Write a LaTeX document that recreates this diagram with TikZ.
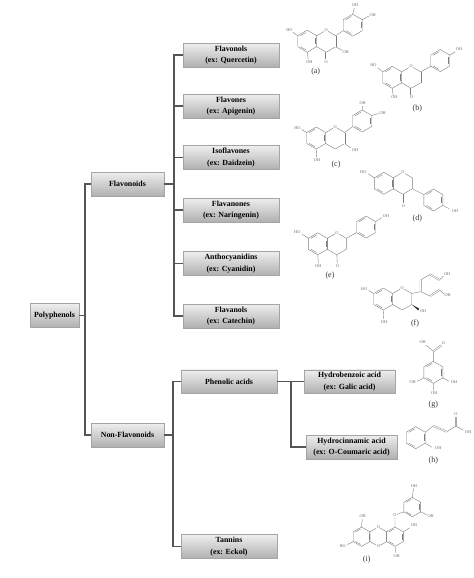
\documentclass[tikz,border=0pt]{standalone}
\usepackage{fontspec}
\setmainfont{Liberation Serif}
\usetikzlibrary{shadows}
\definecolor{boxTop}{RGB}{238, 238, 238}
\definecolor{boxBottom}{RGB}{176, 176, 176}
\definecolor{boxEdge}{RGB}{165, 165, 165}
\definecolor{linkGray}{RGB}{85, 85, 85}
\definecolor{bondGray}{RGB}{125, 125, 125}
\tikzset{
    classbox/.style={draw=boxEdge, line width=.5pt, top color=boxTop, bottom color=boxBottom,
        minimum height=17.75pt, inner sep=0pt, align=center,
        font=\fontsize{5.9}{8.6}\selectfont\bfseries,
        drop shadow={shadow xshift=.2pt, shadow yshift=-.5pt, fill=gray, opacity=.7}},
    rootbox/.style={classbox, minimum width=36.75pt},
    groupbox/.style={classbox, minimum width=54.75pt},
    familybox/.style={classbox, minimum width=72pt},
    acidbox/.style={classbox, minimum width=68.25pt},
    link/.style={draw=linkGray, line width=.95pt},
    bond/.style={draw=bondGray, line width=.3pt},
    dblbond/.style={bond, double, double distance=.7pt},
    atom/.style={inner sep=.2pt, text=black!60, font=\fontsize{3.2}{4}\selectfont},
    ringatom/.style={atom, fill=white},
    caption/.style={inner sep=0pt, text=black!80, font=\fontsize{6}{7}\selectfont}
}
% rings, 11 units from centre to corner
\newcommand{\hexring}[2]{\draw[bond] (#1,#2-11) -- (#1+9.5,#2-5.5) -- (#1+9.5,#2+5.5) -- (#1,#2+11) -- (#1-9.5,#2+5.5) -- (#1-9.5,#2-5.5) -- cycle;}
\newcommand{\hexinner}[2]{\foreach \a in {90,210,330} {\draw[bond] ([shift={(#1,#2)}]\a+8:8.8) -- ([shift={(#1,#2)}]\a+52:8.8);}}
\newcommand{\flavcore}{\hexring{-9.5}{0} \hexinner{-9.5}{0} \hexring{9.5}{0}}
\begin{document}
\begin{tikzpicture}[x=.75pt, y=-.75pt]
    \useasboundingbox (0,0) rectangle (474,578);

    \node[rootbox] (polyphenols) at (54.5,315.5) {Polyphenols};
    \node[groupbox] (flavonoids) at (127.5,184) {Flavonoids};
    \node[groupbox] (nonflavonoids) at (127.5,435) {Non-Flavonoids};
    \node[familybox] (flavonols) at (231,55) {Flavonols\\(ex: Quercetin)};
    \node[familybox] (flavones) at (231,106) {Flavones\\(ex: Apigenin)};
    \node[familybox] (isoflavones) at (231,157.5) {Isoflavones\\(ex: Daidzein)};
    \node[familybox] (flavanones) at (231,210) {Flavanones\\(ex: Naringenin)};
    \node[familybox] (anthocyanidins) at (231,263.5) {Anthocyanidins\\(ex: Cyanidin)};
    \node[familybox] (flavanols) at (231,316) {Flavanols\\(ex: Catechin)};
    \node[familybox] (phenolic) at (229,381.75) {Phenolic acids};
    \node[familybox] (tannins) at (229,546.5) {Tannins\\(ex: Eckol)};
    \node[acidbox] (hydrobenzoic) at (349.5,381.75) {Hydrobenzoic acid\\(ex: Galic acid)};
    \node[acidbox] (hydrocinnamic) at (351.5,447) {Hydrocinnamic acid\\(ex: O-Coumaric acid)};

    \coordinate (forkRoot) at (85,315.5);
    \coordinate (forkFlav) at (174,184);
    \coordinate (forkNon) at (173,435);
    \coordinate (forkAcid) at (291,381.75);

    \draw[link] (polyphenols.east) -- (forkRoot);
    \draw[link] (flavonoids.west) -| (forkRoot);
    \draw[link] (nonflavonoids.west) -| (forkRoot);
    \draw[link] (flavonoids.east) -- (forkFlav);
    \foreach \fam in {flavonols,flavones,isoflavones,flavanones,anthocyanidins,flavanols} {
        \draw[link] (\fam.west) -| (forkFlav);
    }
    \draw[link] (nonflavonoids.east) -- (forkNon);
    \draw[link] (phenolic.west) -| (forkNon);
    \draw[link] (tannins.west) -| (forkNon);
    \draw[link] (phenolic.east) -- (hydrobenzoic.west);
    \draw[link] (hydrocinnamic.west) -| (forkAcid);

    \begin{scope}[shift={(316.7,41.2)}]
        \flavcore
        \hexring{36}{-16} \hexinner{36}{-16}
        \draw[bond] (19,-5.5) -- (26.5,-10.5) (-19,-5.5) -- (-24,-9) (19,5.5) -- (25,9) (-9.5,11) -- (-8.5,18);
        \draw[bond] (36,-27) -- (37.5,-33) (45.5,-21.5) -- (52,-25);
        \draw[dblbond] (9.5,11) -- (9.5,18) (19,-5.5) -- (19,5.5);
        \node[ringatom] (aRing) at (9.5,-11) {O};
        \node[atom] (aHo) at (-27.3,-11.2) {HO};
        \node[atom] (aOhTop) at (38.3,-36.5) {OH};
        \node[atom] (aOhRight) at (56,-26) {OH};
        \node[atom] (aOhMid) at (29,10.5) {OH};
        \node[atom] (aOhLow) at (-7.3,20.5) {OH};
        \node[atom] (aKeto) at (9.5,20.5) {O};
    \end{scope}
    \node[caption] (capA) at (315.7,71.7) {(a)};

    \begin{scope}[shift={(401.7,77.3)}]
        \flavcore
        \hexring{38.5}{-16.7} \hexinner{38.5}{-16.7}
        \draw[bond] (19,-5.5) -- (29,-11) (-19,-5.5) -- (-24,-9.5) (-9.5,11) -- (-8.5,18) (48,-22.2) -- (53.5,-25.5);
        \draw[dblbond] (9.5,11) -- (9.5,18) (19,-5.5) -- (19,5.5);
        \node[ringatom] (bRing) at (9.5,-11) {O};
        \node[atom] (bHo) at (-28.3,-11.7) {HO};
        \node[atom] (bOhRight) at (57.3,-28) {OH};
        \node[atom] (bOhLow) at (-7.3,20.3) {OH};
        \node[atom] (bKeto) at (10,20.3) {O};
    \end{scope}
    \node[caption] (capB) at (417.3,108.3) {(b)};

    \begin{scope}[shift={(325.7,138)}]
        \flavcore
        \hexring{36.5}{-17} \hexinner{36.5}{-17}
        \draw[bond] (19,-5.5) -- (27,-11.5) (-19,-5.5) -- (-24,-8.5) (19,5.5) -- (25,10) (-9.5,11) -- (-9,19.5);
        \draw[bond] (36.5,-28) -- (37,-32) (46,-22.5) -- (53,-24.5);
        \draw[dblbond] (19,-5.5) -- (19,5.5);
        \node[ringatom] (cRing) at (9.5,-11) {O};
        \node[atom] (cHo) at (-28.3,-9.7) {HO};
        \node[atom] (cOhTop) at (37,-34.7) {OH};
        \node[atom] (cOhRight) at (57,-24.7) {OH};
        \node[atom] (cOhMid) at (29.3,12) {OH};
        \node[atom] (cOhLow) at (-8.7,22.5) {OH};
    \end{scope}
    \node[caption] (capC) at (336,164.3) {(c)};

    \begin{scope}[shift={(393.3,183.3)}]
        \flavcore
        \hexring{40}{16.7} \hexinner{40}{16.7}
        \draw[bond] (19,5.5) -- (30.5,11.2) (-19,-5.5) -- (-25,-9.5) (49.5,22.2) -- (56,25.5);
        \draw[dblbond] (9.5,11) -- (9.5,20);
        \node[ringatom] (dRing) at (9.5,-11) {O};
        \node[atom] (dHo) at (-30,-11) {HO};
        \node[atom] (dOhRight) at (61.7,27.7) {OH};
        \node[atom] (dKeto) at (10,23.3) {O};
    \end{scope}
    \node[caption] (capD) at (417.3,218.3) {(d)};

    \begin{scope}[shift={(327.3,243.8)}]
        \flavcore
        \hexring{38.7}{-16.7} \hexinner{38.7}{-16.7}
        \draw[bond] (19,-5.5) -- (29.2,-11.2) (-19,-5.5) -- (-25,-9.5) (-9.5,11) -- (-9,19) (9.5,11) -- (10,19.5) (48.2,-22.2) -- (54.5,-26);
        \node[ringatom] (eRing) at (9.5,-11) {O};
        \node[atom] (eHo) at (-30,-11.2) {HO};
        \node[atom] (eOhRight) at (58.7,-27.2) {OH};
        \node[atom] (eOhLow) at (-9,22.2) {OH};
        \node[atom] (eKeto) at (10,22.2) {O};
    \end{scope}
    \node[caption] (capE) at (330,275.7) {(e)};

    \begin{scope}[shift={(392.7,299)}]
        \flavcore
        \draw[bond] (19,-5.5) -- (28,-7.3) (37.3,-24.7) -- (28,-19) (46.7,-19) -- (51,-23) (28,-7.3) -- (37.3,-3) (46.7,-9) -- (51.5,-5) (-19,-5.5) -- (-24,-8.5) (-9.5,11) -- (-9,19.5);
        \draw[dblbond] (28,-7.3) -- (28,-19) (37.3,-24.7) -- (46.7,-19) (37.3,-3) -- (46.7,-9);
        \fill[bondGray!40!black] (19,5.5) -- (26.5,9.5) -- (25.5,11.5) -- cycle;
        \node[ringatom] (fRing) at (9.5,-11) {O};
        \node[atom] (fHo) at (-28.7,-10) {HO};
        \node[atom] (fOhTop) at (54.5,-24.5) {OH};
        \node[atom] (fOhMid) at (55,-4) {OH};
        \node[atom] (fOhWedge) at (30.5,12) {OH};
        \node[atom] (fOhLow) at (-8.7,22.7) {OH};
    \end{scope}
    \node[caption] (capF) at (415,324) {(f)};

    \begin{scope}[shift={(433.3,372.3)}]
        \hexring{0}{0} \hexinner{0}{0}
        \draw[bond] (0,-11) -- (0,-21) (0,-21) -- (-7,-27) (-9.5,5.5) -- (-16,9) (9.5,5.5) -- (16,9) (0,11) -- (.5,18.5);
        \draw[dblbond] (0,-21) -- (8,-27);
        \node[atom] (gOhTop) at (-10.7,-29.7) {OH};
        \node[atom] (gKeto) at (10,-29) {O};
        \node[atom] (gOhLeft) at (-20.7,10.3) {OH};
        \node[atom] (gOhRight) at (20.7,10.3) {OH};
        \node[atom] (gOhLow) at (1,21.3) {OH};
    \end{scope}
    \node[caption] (capG) at (433.3,405) {(g)};

    \begin{scope}[shift={(415.7,437.7)}]
        \hexring{0}{0} \hexinner{0}{0}
        \draw[bond] (9.5,-5.5) -- (17.6,-11.7) (31,-6) -- (40.3,-11.7) (40.3,-11.7) -- (47.5,-7.5) (9.5,5.5) -- (16,9.5);
        \draw[dblbond] (17.6,-11.7) -- (31,-6) (40.3,-11.7) -- (40.3,-20.5);
        \node[atom] (hKeto) at (40.3,-23.4) {O};
        \node[atom] (hOhRight) at (52.6,-6) {OH};
        \node[atom] (hOhLow) at (22.6,10.6) {OH};
    \end{scope}
    \node[caption] (capH) at (433.3,460.7) {(h)};

    \begin{scope}[shift={(378.3,536.7)}, scale=.88]
        \hexring{-19}{0} \hexinner{-19}{0}
        \hexring{0}{0}
        \hexring{19}{0} \hexinner{19}{0}
        \hexring{38.6}{-33.7} \hexinner{38.6}{-33.7}
        \draw[bond] (19,-11) -- (19,-24.6) -- (29.1,-28.2) (38.6,-44.7) -- (40,-54.5) (48.1,-28.2) -- (55,-25);
        \draw[bond] (28.5,-5.5) -- (35.5,-10) (19,11) -- (20,18) (-19,-11) -- (-18.2,-20) (-28.5,5.5) -- (-35,9);
        \node[ringatom] (iRingTop) at (0,-11) {O};
        \node[ringatom] (iRingLow) at (0,11) {O};
        \node[ringatom] (iLink) at (19,-24.6) {O};
        \node[atom] (iOhTop) at (40.5,-58) {OH};
        \node[atom] (iOhRight) at (59.5,-23.9) {OH};
        \node[atom] (iOhMid) at (40.5,-13.3) {OH};
        \node[atom] (iOhLow) at (20.8,22) {OH};
        \node[atom] (iOhLeft) at (-17.8,-23.9) {OH};
        \node[atom] (iHo) at (-40.5,10.2) {HO};
    \end{scope}
    \node[caption] (capI) at (366.7,560) {(i)};
\end{tikzpicture}
\end{document}
